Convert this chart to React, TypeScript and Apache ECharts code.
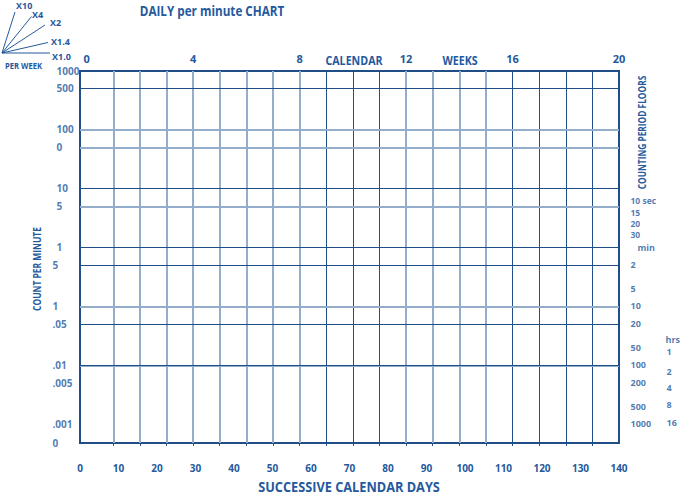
import React, { useEffect, useRef } from "react";
import * as echarts from "echarts";

// ---- axis ranges ----
const Y_MIN = 0.00048; // the "0" floor below .001
const Y_MAX = 1000;
const DAY_MAX = 140;
const WEEK_MIN = -0.25; // the week scale starts slightly right of day 0 in the reference
const WEEK_MAX = 20;

// ---- week axis labels ----
const weekLabelValues = [0, 4, 8, 12, 16, 20];

// ---- grid lines ----
const weekLines = [1, 2, 3, 4, 5, 6, 7, 8, 9, 10, 11, 12, 13, 14, 15, 16, 17, 18, 19];
const darkWeeks = [9, 10, 11, 16, 17, 18, 19];
const rateLines = [500, 100, 50, 10, 5, 1, 0.5, 0.1, 0.05, 0.01, 0.005];
const darkRates = [500, 10, 1, 0.5, 0.05, 0.005];

// ---- left tick labels (count per minute) ----
const leftTickValues = [1000, 500, 100, 50, 10, 5, 1, 0.5, 0.1, 0.05, 0.01, 0.005, 0.001, Y_MIN];
const leftTickTexts = ["1000", "500", "100", "0", "10", "5", "1", "5", "1", ".05", ".01", ".005", ".001", "0"];

// ---- right labels (counting period floors) ----
const secPeriods = [10, 15, 20, 30];
const secTexts = ["10 sec", "15", "20", "30"];
const minPeriods = [1, 2, 5, 10, 20, 50, 100, 200, 500, 1000];
const minTexts = ["min", "2", "5", "10", "20", "50", "100", "200", "500", "1000"];
const hrPeriods = [1, 2, 4, 8, 16];
const hrTexts = ["1", "2", "4", "8", "16"];

// ---- celeration fan ----
const fanLabels = ["X10", "X4", "X2", "X1.4", "X1.0"];

const TEXT = "#25599d";
const DARK = "#1f4e87";
const LIGHT = "#93adcb";
const FONT = '"Open Sans", "Liberation Sans", sans-serif';

function txt(
  text: string,
  x: number,
  y: number,
  size: number,
  opts: { scaleX?: number; rotation?: number; align?: string } = {}
) {
  const align = opts.align || "center";
  return {
    type: "text",
    x,
    y,
    scaleX: opts.scaleX ?? 1,
    rotation: opts.rotation ?? 0,
    silent: true,
    style: {
      text,
      fill: TEXT,
      font: `bold ${size}px ${FONT}`,
      align,
      textAlign: align,
      verticalAlign: "middle",
      textVerticalAlign: "middle",
    },
  };
}

function buildOption() {
  const labelBase = {
    show: true,
    formatter: "{b}",
    align: "left",
    verticalAlign: "middle",
    color: TEXT,
    fontSize: 10,
    fontWeight: "bold",
    fontFamily: FONT,
  };

  const leftData = leftTickValues.map((v, i) => ({
    name: leftTickTexts[i],
    value: [0, v],
    label: { position: [v >= 1 ? -23 : -27, 0] },
  }));

  // small vertical nudges so the tightly stacked seconds labels do not collide
  const secNudge = [-0.5, 0.6, 4.3, 4.9];
  const rightData: any[] = [];
  secPeriods.forEach((s, i) =>
    rightData.push({
      name: secTexts[i],
      value: [DAY_MAX, 60 / s],
      label: { position: [12, secNudge[i]], fontSize: 8.5 },
    })
  );
  minPeriods.forEach((m, i) =>
    rightData.push({
      name: minTexts[i],
      value: [DAY_MAX, 1 / m],
      label: { position: [i === 0 ? 19 : 12, 0] },
    })
  );
  hrPeriods.forEach((h, i) =>
    rightData.push({ name: hrTexts[i], value: [DAY_MAX, 1 / (60 * h)], label: { position: [48, i === 1 ? 2 : 0] } })
  );
  rightData.push({ name: "hrs", value: [DAY_MAX, 1 / (60 * hrPeriods[0])], label: { position: [47, -12] } });

  const vLines = weekLines.map((w) => {
    const dark = darkWeeks.includes(w);
    return { xAxis: w, lineStyle: { color: dark ? DARK : LIGHT, width: dark ? 1 : 2, type: "solid", opacity: 1 } };
  });
  const hLines = rateLines.map((r) => {
    const dark = darkRates.includes(r);
    return { yAxis: r, lineStyle: { color: dark ? DARK : LIGHT, width: dark ? 1 : 2, type: "solid", opacity: 1 } };
  });

  // fan decoration (legend-like glyph)
  const ox = 2;
  const oy = 53;
  const fanEnds = [
    [15, 12],
    [31.5, 16.5],
    [45, 25],
    [48, 42.5],
    [50, 53],
  ];
  const fanTextPos = [
    [16, 5],
    [32, 14],
    [50, 22],
    [51, 41],
    [52, 56],
  ];
  const graphics: any[] = [];
  fanEnds.forEach(([x, y]) =>
    graphics.push({
      type: "line",
      silent: true,
      shape: { x1: ox, y1: oy, x2: x, y2: y },
      style: { stroke: TEXT, lineWidth: 1 },
    })
  );
  fanLabels.forEach((t, i) => graphics.push(txt(t, fanTextPos[i][0], fanTextPos[i][1], 9, { align: "left" })));
  graphics.push(txt("PER WEEK", 5, 65, 8.5, { align: "left", scaleX: 0.9 }));
  graphics.push(txt("DAILY per minute CHART", 212, 10, 15, { scaleX: 0.78 }));
  graphics.push(txt("CALENDAR", 354, 60, 13, { scaleX: 0.82 }));
  graphics.push(txt("WEEKS", 460, 60, 13, { scaleX: 0.82 }));
  graphics.push(txt("SUCCESSIVE CALENDAR DAYS", 349, 486, 15, { scaleX: 0.85 }));
  graphics.push(txt("COUNT PER MINUTE", 37.5, 269, 11, { scaleX: 0.77, rotation: Math.PI / 2 }));
  graphics.push(txt("COUNTING PERIOD FLOORS", 642, 132.5, 11, { scaleX: 0.76, rotation: Math.PI / 2 }));

  const axisLabelStyle = { color: TEXT, fontSize: 10, fontWeight: "bold", fontFamily: FONT };

  return {
    animation: false,
    backgroundColor: "#ffffff",
    grid: {
      left: 80,
      top: 71,
      right: 61,
      bottom: 53,
      show: true,
      borderColor: DARK,
      borderWidth: 2,
      backgroundColor: "transparent",
      containLabel: false,
      outerBoundsMode: "none",
    },
    xAxis: [
      {
        type: "value",
        position: "bottom",
        min: 0,
        max: DAY_MAX,
        interval: 10,
        axisLine: { show: false },
        axisTick: { show: false },
        splitLine: { show: false },
        axisLabel: { ...axisLabelStyle, margin: 20 },
      },
      {
        type: "value",
        position: "top",
        min: WEEK_MIN,
        max: WEEK_MAX,
        axisLine: { show: false },
        axisTick: { show: false },
        splitLine: { show: false },
        axisLabel: { ...axisLabelStyle, fontSize: 11, margin: 7, customValues: weekLabelValues },
      },
      {
        type: "value",
        position: "bottom",
        min: WEEK_MIN,
        max: WEEK_MAX,
        axisLine: { show: false },
        axisTick: { show: true, length: 3, lineStyle: { color: DARK, width: 1 }, customValues: weekLines },
        splitLine: { show: false },
        axisLabel: { show: false, customValues: weekLines },
      },
    ],
    yAxis: [
      {
        type: "log",
        logBase: 10,
        min: Y_MIN,
        max: Y_MAX,
        axisLine: { show: false },
        axisTick: { show: false },
        splitLine: { show: false },
        axisLabel: { show: false },
      },
    ],
    graphic: graphics,
    series: [
      {
        type: "line",
        name: "grid",
        xAxisIndex: 1,
        yAxisIndex: 0,
        data: [[0, 1]],
        showSymbol: false,
        symbol: "none",
        lineStyle: { opacity: 0 },
        silent: true,
        z: 1,
        markLine: {
          silent: true,
          symbol: ["none", "none"],
          label: { show: false },
          emphasis: { disabled: true },
          data: [...vLines, ...hLines],
        },
      },
      {
        type: "scatter",
        name: "left labels",
        xAxisIndex: 0,
        yAxisIndex: 0,
        symbolSize: 1,
        itemStyle: { color: "rgba(0,0,0,0)" },
        clip: false,
        silent: true,
        emphasis: { disabled: true },
        label: labelBase,
        data: leftData,
      },
      {
        type: "scatter",
        name: "counting period floors",
        xAxisIndex: 0,
        yAxisIndex: 0,
        symbolSize: 1,
        itemStyle: { color: "rgba(0,0,0,0)" },
        clip: false,
        silent: true,
        emphasis: { disabled: true },
        label: { ...labelBase, fontSize: 9 },
        data: rightData,
      },
    ],
  };
}

export default function App() {
  const ref = useRef<HTMLDivElement>(null);
  useEffect(() => {
    if (!ref.current) return;
    const chart = echarts.init(ref.current, undefined, { renderer: "svg" });
    chart.setOption(buildOption() as any);
    return () => chart.dispose();
  }, []);
  return (
    <div
      ref={ref}
      style={{ position: "absolute", left: 0, top: 0, width: 680, height: 496, background: "#fff" }}
    />
  );
}
